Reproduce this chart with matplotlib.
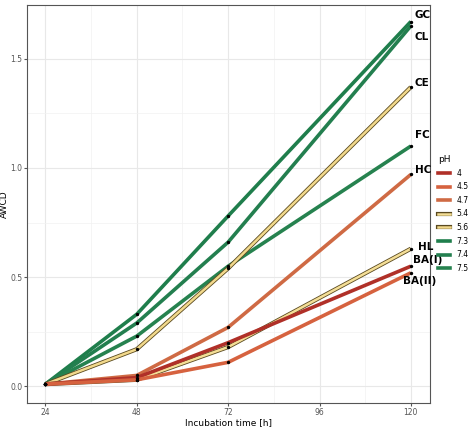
import matplotlib.pyplot as plt
import matplotlib.patheffects as pe
from matplotlib.lines import Line2D

times = [24, 48, 72, 120]
samples = ['GC', 'CL', 'FC', 'CE', 'HC', 'HL', 'BA(I)', 'BA(II)']
ph = ['7.3', '7.4', '7.5', '5.6', '4.7', '5.4', '4', '4.5']
awcd = [
    [0.01, 0.33, 0.78, 1.67],
    [0.01, 0.29, 0.66, 1.65],
    [0.01, 0.23, 0.55, 1.10],
    [0.01, 0.17, 0.54, 1.37],
    [0.01, 0.05, 0.27, 0.97],
    [0.01, 0.03, 0.18, 0.63],
    [0.01, 0.04, 0.20, 0.55],
    [0.01, 0.03, 0.11, 0.52],
]
ph_levels = ['4', '4.5', '4.7', '5.4', '5.6', '7.3', '7.4', '7.5']
ph_colors = {'4': '#B03028', '4.5': '#D6623F', '4.7': '#CF6A44', '5.4': '#F4DE96',
             '5.6': '#F2D98C', '7.3': '#1F7E4C', '7.4': '#237F4F', '7.5': '#26824F'}
label_pos = {'GC': (121, 1.70), 'CL': (121, 1.60), 'FC': (121, 1.15), 'CE': (121, 1.39),
             'HC': (121, 0.99), 'HL': (122, 0.64), 'BA(I)': (120.5, 0.58), 'BA(II)': (118, 0.48)}

fig = plt.figure(figsize=(4.74, 4.28), dpi=100)
ax = fig.add_axes([0.058, 0.058, 0.849, 0.930])

def style(p):
    if p in ('5.4', '5.6'):
        return [pe.Stroke(linewidth=3.0, foreground='#5a4a20'), pe.Normal()]
    return None

for s, p, v in zip(samples, ph, awcd):
    ef = style(p)
    ax.plot(times, v, color=ph_colors[p], lw=1.8 if ef else 2.6, solid_capstyle='butt',
            path_effects=ef, zorder=3)
    ax.scatter(times, v, s=2, color='black', zorder=4)
    lx, ly = label_pos[s]
    ax.text(lx, ly, s, fontsize=7.5, fontweight='bold', ha='left', va='center')

ax.set_xlim(19.3, 125)
ax.set_ylim(-0.077, 1.745)
ax.set_xticks([24, 48, 72, 96, 120])
ax.set_yticks([0.0, 0.5, 1.0, 1.5])
ax.set_yticklabels(['0.0', '0.5', '1.0', '1.5'])
ax.set_xticks([36, 60, 84, 108], minor=True)
ax.set_yticks([0.25, 0.75, 1.25], minor=True)
ax.grid(True, which='major', color='#e8e8e8', lw=0.8)
ax.grid(True, which='minor', color='#f2f2f2', lw=0.5)
ax.tick_params(which='major', labelsize=5.5, colors='#555555', length=2, pad=1.5)
ax.tick_params(which='minor', length=0)
for sp in ax.spines.values():
    sp.set_color('#555555')
ax.set_axisbelow(True)
ax.set_xlabel('Incubation time [h]', fontsize=6.5, labelpad=0.5)
ax.set_ylabel('AWCD', fontsize=6.5, labelpad=1)

handles = []
for p in ph_levels:
    if p in ('5.4', '5.6'):
        handles.append(Line2D([], [], color=ph_colors[p], lw=1.8,
                              path_effects=[pe.Stroke(linewidth=3.0, foreground='#5a4a20'), pe.Normal()]))
    else:
        handles.append(Line2D([], [], color=ph_colors[p], lw=2.6))
leg = fig.legend(handles, ph_levels, title='pH', loc='center left', bbox_to_anchor=(0.91, 0.5),
                 frameon=False, fontsize=5.5, title_fontsize=6.5, handlelength=1.6, labelspacing=0.6)
leg._legend_box.align = 'left'

fig.savefig('out.png', dpi=100)
